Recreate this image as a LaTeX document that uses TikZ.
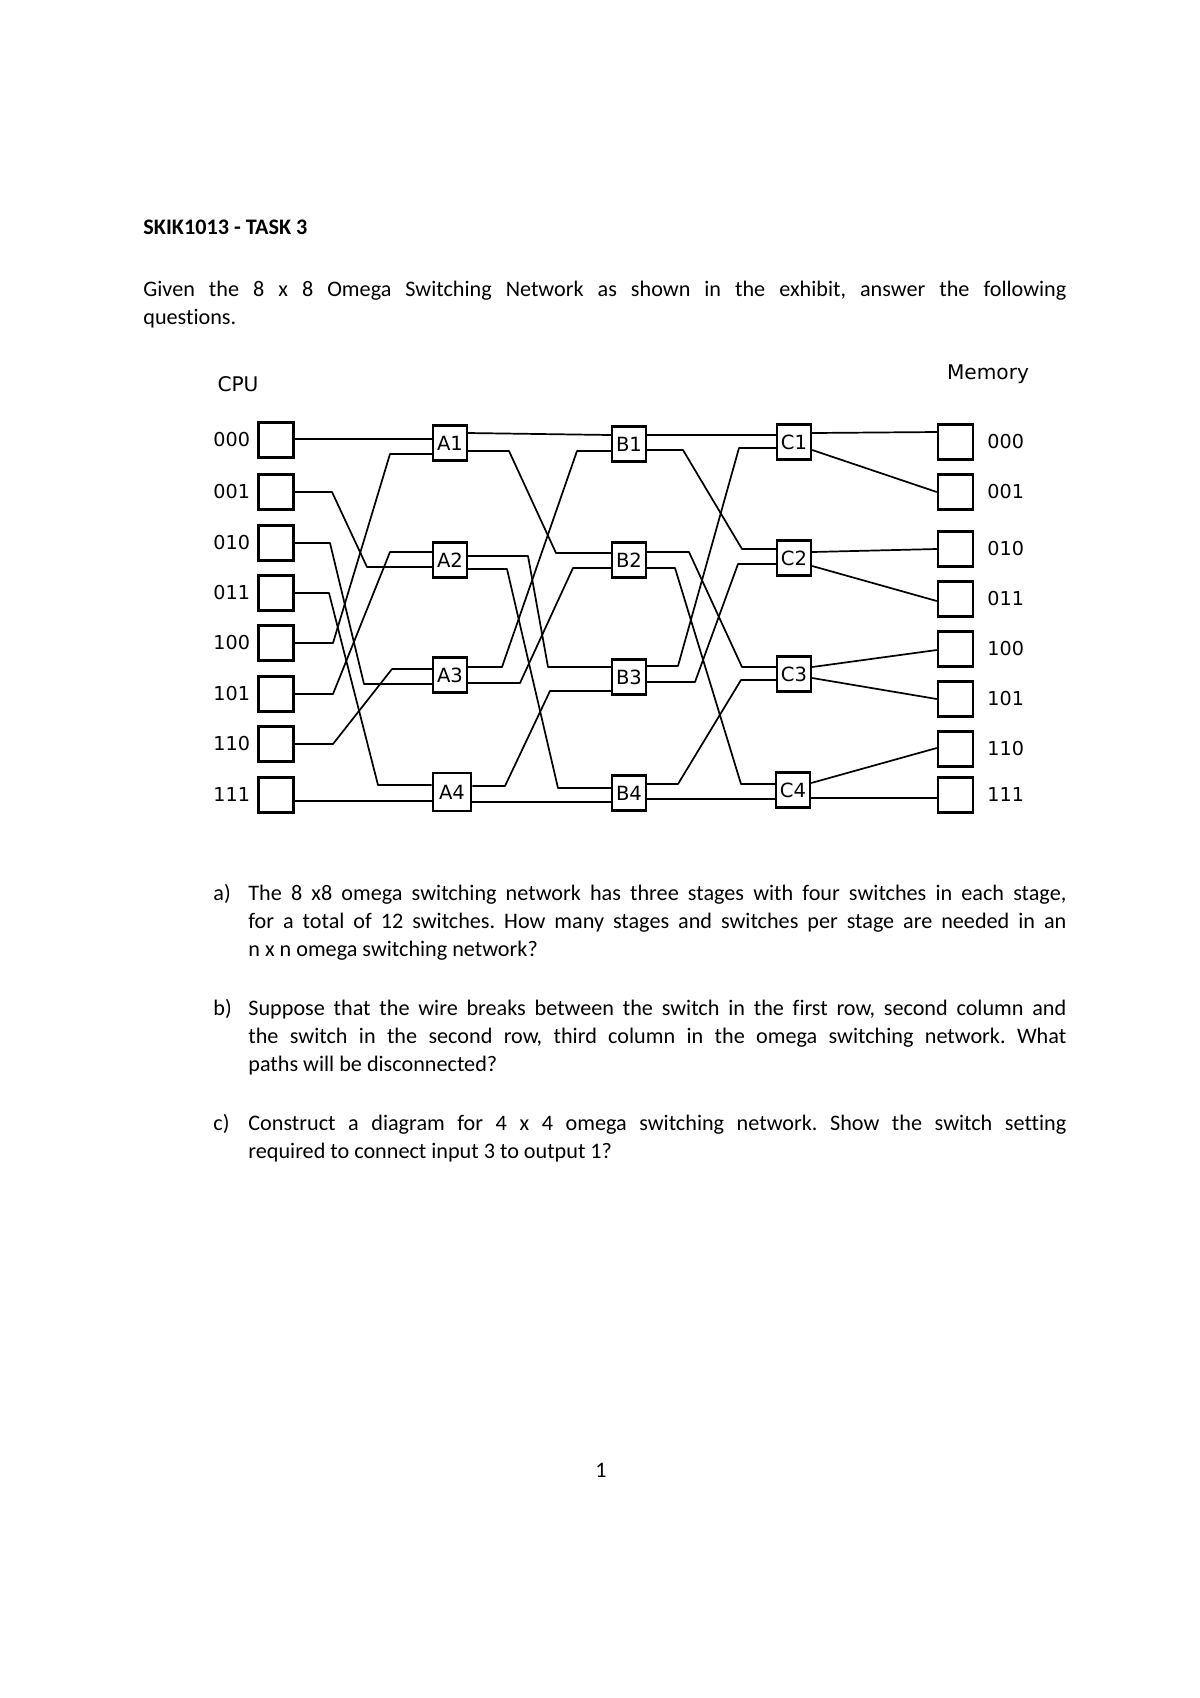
\documentclass[tikz,border=0pt]{standalone}
\usepackage{fontspec}
\setmainfont{Carlito}[Ligatures=NoCommon]
\newfontfamily\djv{DejaVu Sans}
\frenchspacing
\begin{document}
\begin{tikzpicture}[x=0.496pt,y=-0.496pt,
  term/.style={draw, line width=1.2pt, minimum width=17.4pt, minimum height=17.4pt, inner sep=0pt},
  sw/.style={draw, line width=1.15pt, minimum width=16.9pt, minimum height=17.4pt, inner sep=0pt, font=\djv\fontsize{9.7}{11}\selectfont},
  lbl/.style={font=\djv\fontsize{9.5}{11}\selectfont, inner sep=0pt},
  head/.style={font=\djv\fontsize{10}{12}\selectfont, inner sep=0pt},
  wire/.style={line width=0.85pt, line join=round},
  txt/.style={inner sep=0pt, anchor=base west, font=\fontsize{11}{13.9}\selectfont}]
\fill[white] (0,0) rectangle (1200,1698);
\useasboundingbox (0,0) rectangle (1200,1698);

% ---------- text ----------
\node[txt, font=\bfseries\fontsize{11}{13.9}\selectfont] (title) at (143,234) {SKIK1013 - TASK 3};
\node[txt] (g1) at (143,296) {\makebox[457.8pt][s]{Given the 8 x 8 Omega Switching Network as shown in the exhibit, answer the following}};
\node[txt] (g2) at (143,324) {questions.};

\node[txt] (qa) at (213,900) {a)};
\node[txt] (a1) at (248,900) {\makebox[405.7pt][s]{The 8 x8 omega switching network has three stages with four switches in each stage,}};
\node[txt] (a2) at (248,928) {\makebox[405.7pt][s]{for a total of 12 switches. How many stages and switches per stage are needed in an}};
\node[txt] (a3) at (248,956) {n x n omega switching network?};

\node[txt] (qb) at (213,1015) {b)};
\node[txt] (b1) at (248,1015) {\makebox[405.7pt][s]{Suppose that the wire breaks between the switch in the first row, second column and}};
\node[txt] (b2) at (248,1043) {\makebox[405.7pt][s]{the switch in the second row, third column in the omega switching network. What}};
\node[txt] (b3) at (248,1071) {paths will be disconnected?};

\node[txt] (qc) at (213,1130) {c)};
\node[txt] (cc1) at (248,1130) {\makebox[405.7pt][s]{Construct a diagram for 4 x 4 omega switching network. Show the switch setting}};
\node[txt] (cc2) at (248,1158) {required to connect input 3 to output 1?};

\node[txt, anchor=base] (pg) at (601,1477) {1};

% ---------- headings ----------
\node[head] (cpu) at (238,384) {CPU};
\node[head] (mem) at (988,374) {Memory};

% ---------- CPU terminals ----------
\foreach \n/\y/\t in {0/440/000,1/492/001,2/543/010,3/593/011,4/643/100,5/694/101,6/744/110,7/795/111}{
  \node[term] (c\n) at (276,\y) {};
  \node[lbl, anchor=west] (lc\n) at (213,\y) {\t};
}
% ---------- Memory terminals ----------
\foreach \n/\y/\t in {0/442/000,1/492/001,2/549/010,3/599/011,4/649/100,5/699/101,6/749/110,7/795/111}{
  \node[term] (m\n) at (955.5,\y) {};
  \node[lbl, anchor=west] (lm\n) at (987,\y) {\t};
}

% ---------- switches ----------
\node[sw] (A1) at (450,443) {A1};
\node[sw] (A2) at (450,560) {A2};
\node[sw] (A3) at (450,675) {A3};
\node[sw, minimum width=19pt, minimum height=19pt] (A4) at (452,792) {A4};
\node[sw] (B1) at (629,444) {B1};
\node[sw] (B2) at (629,560) {B2};
\node[sw] (B3) at (629,677) {B3};
\node[sw] (B4) at (629,793) {B4};
\node[sw] (C1) at (794,442) {C1};
\node[sw] (C2) at (794,558) {C2};
\node[sw] (C3) at (794,674) {C3};
\node[sw] (C4) at (793,790) {C4};

% ---------- CPU -> A ----------
\draw[wire] (c0.east |- 0,439) -- (A1.west |- 0,439);
\draw[wire] (c1.east |- 0,492) -- (332,492) -- (367,567) -- (A2.west |- 0,567);
\draw[wire] (c2.east |- 0,543) -- (330,543) -- (364,684) -- (A3.west |- 0,684);
\draw[wire] (c3.east |- 0,593) -- (329,593) -- (378,785) -- (A4.west |- 0,785);
\draw[wire] (c4.east |- 0,643) -- (333,643) -- (390,454) -- (A1.west |- 0,454);
\draw[wire] (c5.east |- 0,694) -- (333,694) -- (390,552) -- (A2.west |- 0,552);
\draw[wire] (c6.east |- 0,744) -- (333,744) -- (392,669) -- (A3.west |- 0,669);
\draw[wire] (c7.east |- 0,801) -- (A4.west |- 0,801);

% ---------- A -> B ----------
\draw[wire] (A1.east |- 0,433) -- (B1.west |- 0,435);
\draw[wire] (A1.east |- 0,451) -- (509,451) -- (556,553) -- (B2.west |- 0,553);
\draw[wire] (A2.east |- 0,556) -- (528,556) -- (548,667) -- (B3.west |- 0,667);
\draw[wire] (A2.east |- 0,569) -- (507,569) -- (558,788) -- (B4.west |- 0,788);
\draw[wire] (A3.east |- 0,667) -- (502,667) -- (577,451) -- (B1.west |- 0,451);
\draw[wire] (A3.east |- 0,683) -- (520,683) -- (573,568) -- (B2.west |- 0,568);
\draw[wire] (A4.east |- 0,786) -- (505,786) -- (550,691) -- (B3.west |- 0,691);
\draw[wire] (A4.east |- 0,802) -- (B4.west |- 0,802);

% ---------- B -> C ----------
\draw[wire] (B1.east |- 0,435) -- (C1.west |- 0,435);
\draw[wire] (B1.east |- 0,450) -- (683,450) -- (742,549) -- (C2.west |- 0,549);
\draw[wire] (B2.east |- 0,552) -- (689,552) -- (742,667) -- (C3.west |- 0,667);
\draw[wire] (B2.east |- 0,568) -- (675,568) -- (741,784) -- (C4.west |- 0,784);
\draw[wire] (B3.east |- 0,666) -- (678,666) -- (739,448) -- (C1.west |- 0,448);
\draw[wire] (B3.east |- 0,682) -- (695,682) -- (738,564) -- (C2.west |- 0,564);
\draw[wire] (B4.east |- 0,784) -- (678,784) -- (741,680) -- (C3.west |- 0,680);
\draw[wire] (B4.east |- 0,799) -- (C4.west |- 0,799);

% ---------- C -> Memory ----------
\draw[wire] (C1.east |- 0,433) -- (m0.west |- 0,432);
\draw[wire] (C1.east |- 0,450) -- (m1.west |- 0,492);
\draw[wire] (C2.east |- 0,552) -- (m2.west |- 0,549);
\draw[wire] (C2.east |- 0,566) -- (m3.west |- 0,601);
\draw[wire] (C3.east |- 0,667) -- (m4.west |- 0,650);
\draw[wire] (C3.east |- 0,678) -- (m5.west |- 0,699);
\draw[wire] (C4.east |- 0,783) -- (m6.west |- 0,748);
\draw[wire] (C4.east |- 0,798) -- (m7.west |- 0,798);
\end{tikzpicture}
\end{document}
